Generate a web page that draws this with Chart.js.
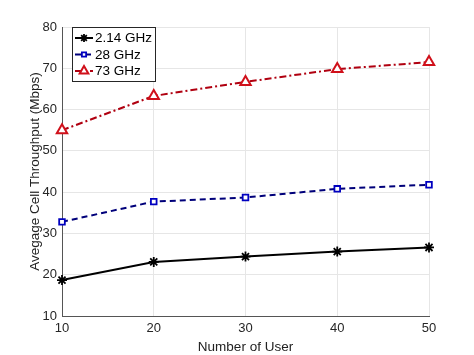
<!DOCTYPE html>
<html><head><meta charset="utf-8">
<script src="https://cdn.jsdelivr.net/npm/chart.js@4/dist/chart.umd.min.js"></script>
<style>html,body{margin:0;padding:0;background:#fff}#w{width:474px;height:355px}</style>
</head><body><div id="w"><canvas id="c" width="474" height="355"></canvas></div>
<script>
const users = [10, 20, 30, 40, 50];
const ghz214 = [18.7, 23.1, 24.4, 25.6, 26.6];
const ghz28 = [32.8, 37.7, 38.7, 40.8, 41.8];
const ghz73 = [55.0, 63.3, 66.7, 69.8, 71.5];
const seriesNames = ['2.14 GHz', '28 GHz', '73 GHz'];
const yTicks = [10, 20, 30, 40, 50, 60, 70, 80];
const xTicks = users;

const FONT = 'Liberation Sans, Arial, sans-serif';

const legendPlugin = {
  id: 'innerLegend',
  afterDraw(chart) {
    const ctx = chart.ctx;
    const ca = chart.chartArea;
    const x0 = ca.left + 10, y0 = ca.top, w = 83, h = 54;
    ctx.save();
    ctx.fillStyle = '#fff';
    ctx.fillRect(x0, y0, w, h);
    ctx.strokeStyle = '#262626';
    ctx.lineWidth = 1;
    ctx.strokeRect(x0 + 0.5, y0 + 0.5, w, h);
    chart.data.datasets.forEach((ds, i) => {
      const yy = y0 + 11 + i * 16.5;
      ctx.strokeStyle = ds.borderColor;
      ctx.lineWidth = ds.borderWidth;
      ctx.setLineDash(ds.borderDash || []);
      ctx.beginPath();
      ctx.moveTo(x0 + 3, yy);
      ctx.lineTo(x0 + 21, yy);
      ctx.stroke();
      ctx.setLineDash([]);
      ctx.strokeStyle = ds.pointBorderColor;
      ctx.fillStyle = ds.pointBackgroundColor;
      ctx.lineWidth = ds.pointBorderWidth;
      Chart.helpers.drawPoint(ctx, {pointStyle: ds.pointStyle, radius: ds.pointRadius - 1, rotation: 0, borderWidth: ds.pointBorderWidth}, x0 + 12, yy);
      ctx.fillStyle = '#000';
      ctx.font = '13.5px ' + FONT;
      ctx.textBaseline = 'middle';
      ctx.textAlign = 'left';
      ctx.fillText(ds.label, x0 + 23, yy + 0.5);
    });
    ctx.restore();
  }
};

new Chart(document.getElementById('c'), {
  type: 'line',
  data: {
    datasets: [
      {label: seriesNames[0], data: users.map((u, i) => ({x: u, y: ghz214[i]})),
       borderColor: '#000', borderWidth: 2, pointStyle: 'star', pointRadius: 5, clip: false,
       pointBorderColor: '#000', pointBackgroundColor: '#000', pointBorderWidth: 1.8},
      {label: seriesNames[1], data: users.map((u, i) => ({x: u, y: ghz28[i]})),
       borderColor: '#00007a', borderWidth: 2, borderDash: [6, 4], pointStyle: 'rect', pointRadius: 4, clip: false,
       pointBorderColor: '#0000c0', pointBackgroundColor: '#fff', pointBorderWidth: 1.8},
      {label: seriesNames[2], data: users.map((u, i) => ({x: u, y: ghz73[i]})),
       borderColor: '#b00010', borderWidth: 2, borderDash: [7, 3, 2, 3], pointStyle: 'triangle', pointRadius: 6, clip: false,
       pointBorderColor: '#d0101a', pointBackgroundColor: '#fff', pointBorderWidth: 2}
    ]
  },
  options: {
    responsive: false,
    animation: false,
    layout: {padding: {left: 27, right: 45, top: 27, bottom: 0}},
    plugins: {legend: {display: false}, tooltip: {enabled: false}},
    scales: {
      x: {
        type: 'linear', min: 10, max: 50,
        afterBuildTicks: s => { s.ticks = xTicks.map(v => ({value: v})); },
        afterFit: s => { s.height = 39; },
        grid: {color: '#e6e6e6', drawTicks: false},
        border: {color: '#555', width: 1},
        ticks: {color: '#262626', font: {family: FONT, size: 13}, padding: 5},
        title: {display: true, text: 'Number of User', color: '#222', font: {family: FONT, size: 13.5}, padding: {top: 1, bottom: 0}}
      },
      y: {
        min: 10, max: 80,
        afterBuildTicks: s => { s.ticks = yTicks.map(v => ({value: v})); },
        afterFit: s => { s.width = 35; },
        grid: {color: '#e6e6e6', drawTicks: false},
        border: {color: '#555', width: 1},
        ticks: {color: '#262626', font: {family: FONT, size: 13}, padding: 5},
        title: {display: true, text: 'Avegage Cell Throughput (Mbps)', color: '#222', font: {family: FONT, size: 13.5}, padding: {top: 0, bottom: 0}}
      }
    }
  },
  plugins: [legendPlugin]
});
</script></body></html>
